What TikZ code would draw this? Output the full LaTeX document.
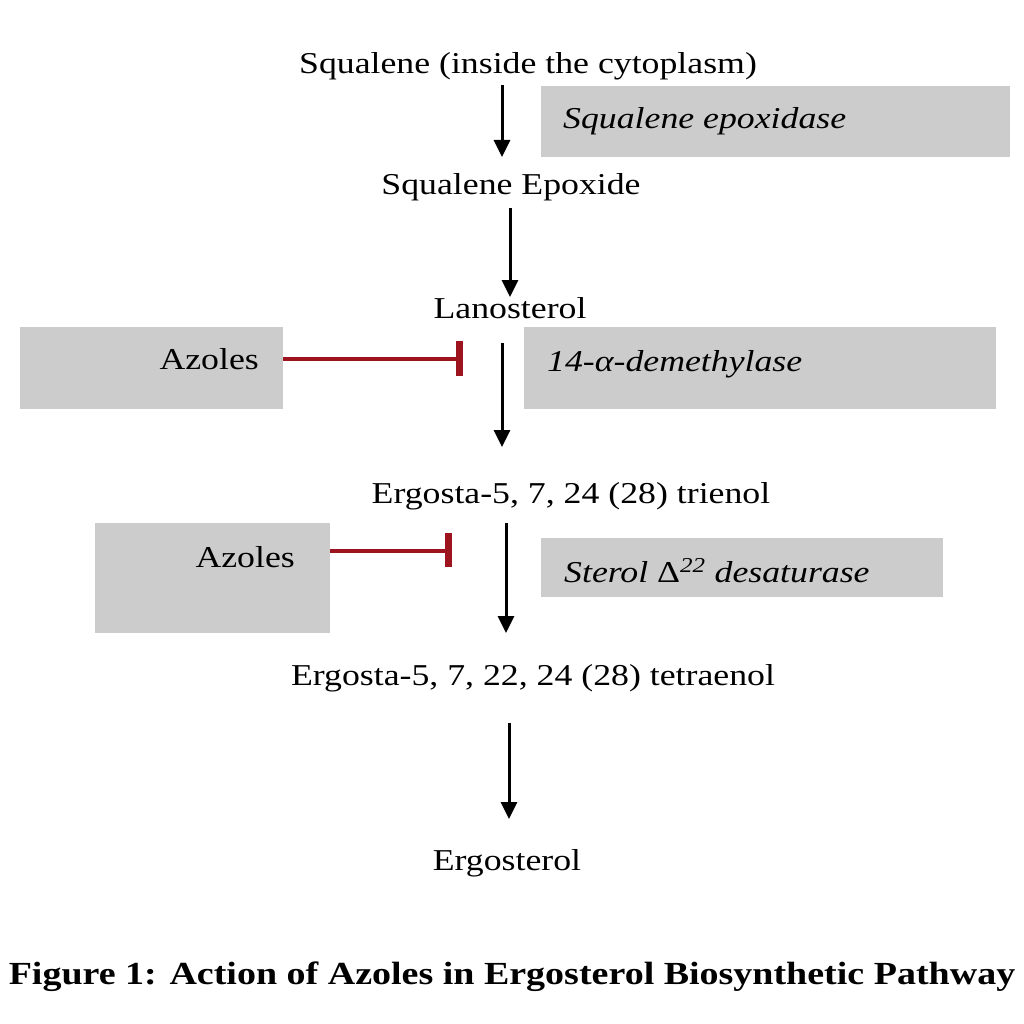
\documentclass[tikz,border=0pt]{standalone}
\usepackage{fontspec}
\setmainfont[FakeStretch=1.18]{Liberation Serif}
\usetikzlibrary{arrows.meta}
\definecolor{boxgray}{RGB}{204,204,204}
\definecolor{azred}{RGB}{158,20,30}
\tikzset{
  lbl/.style={inner sep=0pt, anchor=base, font=\fontsize{30.3}{36}\selectfont},
  enz/.style={inner sep=0pt, anchor=base west, font=\fontsize{30.3}{36}\selectfont\itshape},
  graybox/.style={fill=boxgray, draw=none, inner sep=0pt, anchor=north west},
  flow/.style={line width=3pt, -{Triangle[width=16pt,length=17pt]}},
  inh/.style={line width=3.5pt, draw=azred},
  inhbar/.style={line width=7pt, draw=azred},
}
\begin{document}
\begin{tikzpicture}[x=1pt,y=-1pt]
\useasboundingbox[fill=white] (0,0) rectangle (1024,1024);

% main pathway labels
\node[lbl] (sq)   at (528,74)  {Squalene (inside the cytoplasm)};
\node[lbl] (sqe)  at (511,195) {Squalene Epoxide};
\node[lbl] (lan)  at (510,318) {Lanosterol};
\node[lbl] (tri)  at (571,503) {Ergosta-5, 7, 24 (28) trienol};
\node[lbl] (tet)  at (533,685) {Ergosta-5, 7, 22, 24 (28) tetraenol};
\node[lbl] (erg)  at (507,870) {Ergosterol};

% enzyme boxes
\node[graybox, minimum width=469pt, minimum height=71pt] (b1) at (541,86) {};
\node[enz] (e1) at (563,129) {Squalene epoxidase};
\node[graybox, minimum width=472pt, minimum height=82pt] (b2) at (524,327) {};
\node[enz] (e2) at (547,371) {14-α-demethylase};
\node[graybox, minimum width=402pt, minimum height=59pt] (b3) at (541,538) {};
\node[enz] (e3) at (564,582) {Sterol {\upshape Δ}\textsuperscript{22} desaturase};

% azole boxes
\node[graybox, minimum width=263pt, minimum height=82pt] (az1) at (20,327) {};
\node[lbl, anchor=base east] (az1t) at (259,369) {Azoles};
\node[graybox, minimum width=235pt, minimum height=110pt] (az2) at (95,523) {};
\node[lbl, anchor=base east] (az2t) at (295,567) {Azoles};

% arrow end points
\coordinate (a1s) at (502,85);  \coordinate (a1e) at (502,157);
\coordinate (a2s) at (510,208); \coordinate (a2e) at (510,297);
\coordinate (a3s) at (502,343); \coordinate (a3e) at (502,447);
\coordinate (a4s) at (506,523); \coordinate (a4e) at (506,633);
\coordinate (a5s) at (509,723); \coordinate (a5e) at (509,819);

\draw[flow] (a1s) -- (a1e);
\draw[flow] (a2s) -- (a2e);
\draw[flow] (a3s) -- (a3e);
\draw[flow] (a4s) -- (a4e);
\draw[flow] (a5s) -- (a5e);

% inhibition
\coordinate (bar1) at (459,359);
\coordinate (bar2) at (448,551);
\draw[inh] (az1.east |- bar1) -- (bar1);
\draw[inhbar] ([yshift=-17pt]bar1) -- ([yshift=18pt]bar1);
\draw[inh] (az2.east |- bar2) -- (bar2);
\draw[inhbar] ([yshift=-16pt]bar2) -- ([yshift=18pt]bar2);

% caption
\node[inner sep=0pt, anchor=base, font=\fontsize{32.2}{40}\selectfont\bfseries] (cap) at (512,984)
  {Figure 1: Action of Azoles in Ergosterol Biosynthetic Pathway};
\end{tikzpicture}
\end{document}
